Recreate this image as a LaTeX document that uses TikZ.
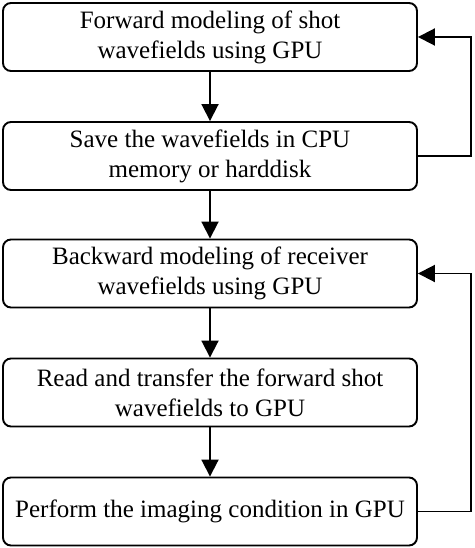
\documentclass[tikz,border=0pt]{standalone}
\usepackage{fontspec}
\setmainfont{Liberation Serif}
\usetikzlibrary{arrows.meta}
\begin{document}
\begin{tikzpicture}[x=1pt,y=-1pt,
  box/.style={draw, line width=1.9pt, rounded corners=8pt, minimum width=414pt, minimum height=68pt, align=center, font=\fontsize{25}{30}\selectfont, inner sep=0pt},
  arr/.style={line width=1.9pt, -{Triangle[length=17pt,width=17pt]}}]
\useasboundingbox[fill=white] (0,0) rectangle (474,548);
\node[box] (b1) at (210,37) {Forward modeling of shot\\wavefields using GPU};
\node[box] (b2) at (210,156) {Save the wavefields in CPU\\memory or harddisk};
\node[box] (b3) at (210,273.5) {Backward modeling of receiver\\wavefields using GPU};
\node[box] (b4) at (210,392.5) {Read and transfer the forward shot\\wavefields to GPU};
\node[box] (b5) at (210,511.5) {Perform the imaging condition in GPU};
\coordinate (rx) at (471,0);
\draw[arr] (b1) -- (b2);
\draw[arr] (b2) -- (b3);
\draw[arr] (b3) -- (b4);
\draw[arr] (b4) -- (b5);
\draw[arr] (b2.east) -- (b2.east -| rx) -- (b1.east -| rx) -- (b1.east);
\draw[arr] (b5.east) -- (b5.east -| rx) -- (b3.east -| rx) -- (b3.east);
\end{tikzpicture}
\end{document}
